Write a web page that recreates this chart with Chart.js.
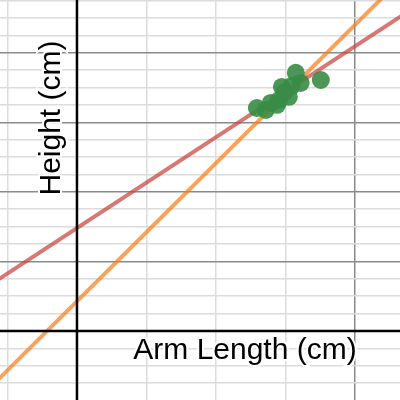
<!DOCTYPE html>
<html>
<head>
<script src="https://cdn.jsdelivr.net/npm/chart.js@4"></script>
<style>html,body{margin:0;padding:0;background:#fff}#wrap{width:400px;height:400px}</style>
</head>
<body>
<div id="wrap"><canvas id="scatter"></canvas></div>
<script>
// measured points (arm length, height)
const armLength = [25.9, 27.2, 27.9, 29.1, 29.5, 30.5, 30.9, 31.5, 32.2, 35.1, 29.9, 28.8];
const height = [128.2, 127.1, 131.1, 132.8, 140.3, 134.6, 140.9, 148.4, 142.6, 144.3, 137.4, 130.0];
// fitted lines, end points
const redX = [-12, 48];
const redY = [59.2 - 2.61 * 12, 59.2 + 2.61 * 48];
const orangeX = [-12, 48];
const orangeY = [17.1 - 3.97 * 12, 17.1 + 3.97 * 48];
const xMin = -11.08, xMax = 46.5, yMin = -39.7, yMax = 190.3;

const pts = armLength.map((x, i) => ({x: x, y: height[i]}));

const titles = {
    id: "titles",
    afterDraw(chart) {
        const c = chart.ctx;
        c.save();
        c.font = "30px 'Liberation Sans', Arial";
        c.lineWidth = 4;
        c.strokeStyle = "#fff";
        c.fillStyle = "#000";
        c.textAlign = "center";
        c.textBaseline = "middle";
        c.strokeText("Arm Length (cm)", 245, 351);
        c.fillText("Arm Length (cm)", 245, 351);
        c.translate(52, 118);
        c.rotate(-Math.PI / 2);
        c.strokeText("Height (cm)", 0, 0);
        c.fillText("Height (cm)", 0, 0);
        c.restore();
    }
};

const gridColor = ctx => (ctx.tick && ctx.tick.value % 40 === 0) ? "#8a8a8a" : "#dcdcdc";

new Chart(document.getElementById("scatter").getContext("2d"), {
    type: "scatter",
    data: {
        datasets: [
            {
                data: [{x: 0, y: yMin - 5}, {x: 0, y: yMax + 5}],
                showLine: true, borderColor: "#000", borderWidth: 2.5, pointRadius: 0
            },
            {
                data: [{x: xMin - 5, y: 0}, {x: xMax + 5, y: 0}],
                showLine: true, borderColor: "#000", borderWidth: 2.5, pointRadius: 0
            },
            {
                data: pts,
                backgroundColor: "rgba(56,140,70,0.9)", borderWidth: 0, pointRadius: 9
            },
            {
                data: redX.map((x, i) => ({x: x, y: redY[i]})),
                showLine: true, borderColor: "rgba(199,68,64,0.72)", borderWidth: 4, pointRadius: 0
            },
            {
                data: orangeX.map((x, i) => ({x: x, y: orangeY[i]})),
                showLine: true, borderColor: "rgba(250,126,25,0.72)", borderWidth: 4, pointRadius: 0
            }
        ]
    },
    options: {
        animation: false,
        responsive: true,
        maintainAspectRatio: false,
        layout: {padding: 0, autoPadding: false},
        plugins: {legend: {display: false}, tooltip: {enabled: false}},
        scales: {
            x: {
                type: "linear", min: xMin, max: xMax,
                ticks: {display: false, stepSize: 10},
                afterBuildTicks: s => { s.ticks = [-10, 0, 10, 20, 30, 40].map(v => ({value: v})); },
                grid: {drawTicks: false, color: gridColor, lineWidth: 1.5},
                border: {display: false}
            },
            y: {
                type: "linear", min: yMin, max: yMax,
                ticks: {display: false, stepSize: 10},
                afterBuildTicks: s => { const t = []; for (let v = -30; v <= 190; v += 10) t.push({value: v}); s.ticks = t; },
                grid: {drawTicks: false, color: gridColor, lineWidth: 1.5},
                border: {display: false}
            }
        }
    },
    plugins: [titles]
});
</script>
</body>
</html>
